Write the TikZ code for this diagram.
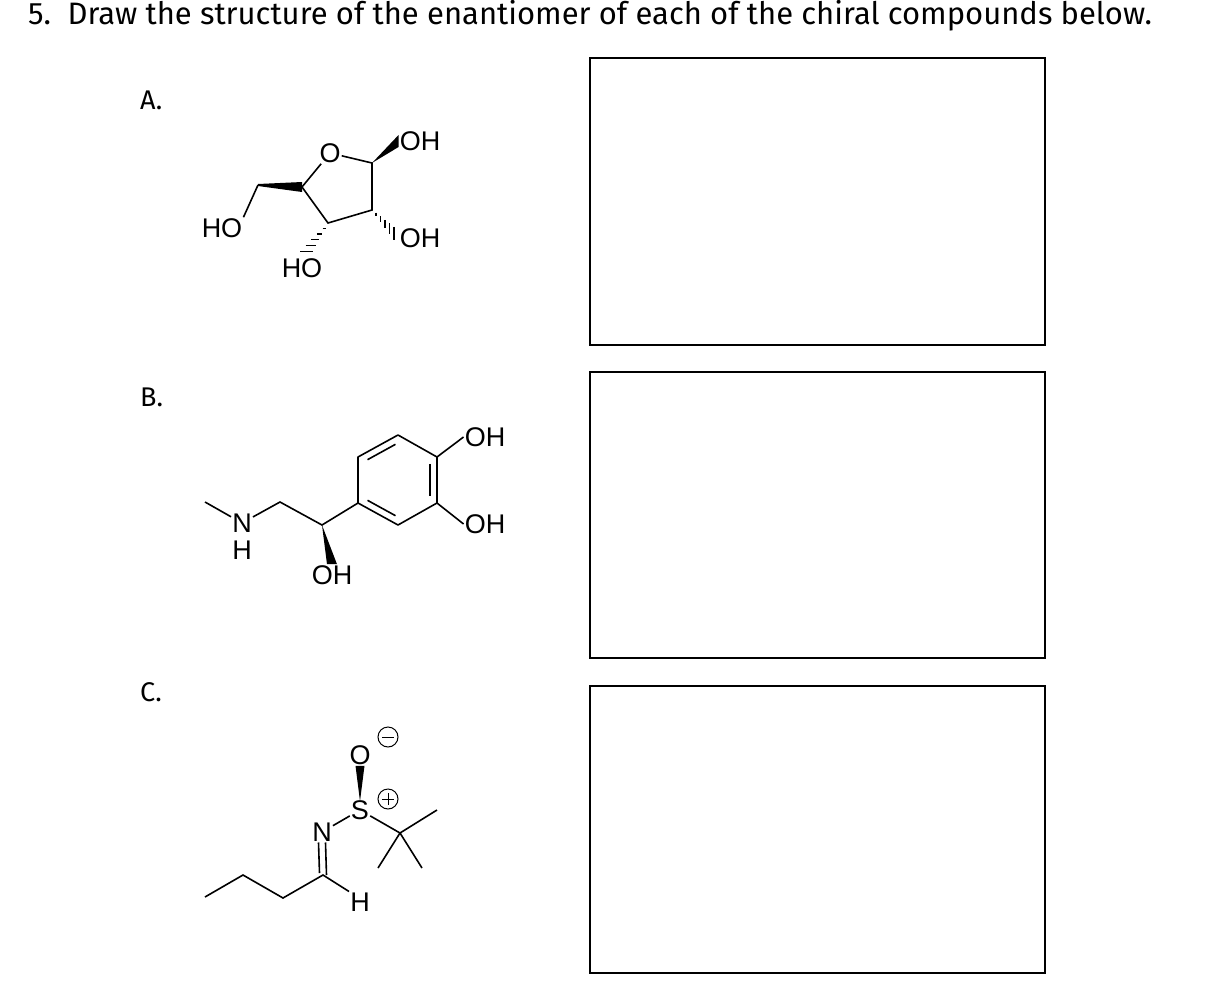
\documentclass[tikz,border=0pt]{standalone}
\usetikzlibrary{calc}
\usepackage{fontspec}
\setmainfont{Fira Sans}
\newfontfamily\atomfont{Liberation Sans}
\begin{document}
\begin{tikzpicture}[x=1pt,y=-1pt,
  bond/.style={line width=1.6pt},
  atom/.style={inner sep=1pt,font=\atomfont\fontsize{27}{27}\selectfont},
  lbl/.style={inner sep=0pt,anchor=west,font=\fontsize{27}{30}\selectfont},
  box/.style={draw,line width=1.2pt},
  chg/.style={draw,circle,line width=1pt,minimum size=20pt,inner sep=0pt}]
\useasboundingbox (0,0) rectangle (1227,999);
\node[lbl,font=\fontsize{31}{34}\selectfont] (title) at (28,16) {5.\ \ Draw the structure of the enantiomer of each of the chiral compounds below.};
\node[lbl] (la) at (140,100) {A.};
\node[lbl] (lb) at (140,397) {B.};
\node[lbl] (lc) at (140,692) {C.};
\draw[box] (590,58) rectangle (1045,345);
\draw[box] (590,372) rectangle (1045,658);
\draw[box] (590,686) rectangle (1045,973);
% A
\node[atom] (aO) at (330,153) {O};
\coordinate (a1) at (372,163);
\coordinate (a2) at (372,210);
\coordinate (a3) at (328,223);
\coordinate (a4) at (302,187);
\coordinate (a5) at (258,185);
\node[atom] (aOH1) at (420,141) {OH};
\node[atom] (aOH2) at (420,238) {OH};
\node[atom] (aOH3) at (302,268) {HO};
\node[atom] (aOH4) at (222,228) {HO};
\draw[bond] (aO) -- (a1) -- (a2) -- (a3) -- (a4) -- (aO);
\draw[bond] (a5) -- (aOH4.north east);
\fill (a1) -- ($(aOH1.west)+(0,-6)$) -- ($(aOH1.west)+(0,6)$) -- cycle;
\fill ($(a4)+(0,-5)$) -- ($(a4)+(0,5)$) -- ($(a5)+(0,1)$) -- ($(a5)+(0,-1)$) -- cycle;
\foreach \t/\w in {0.15/1.5,0.32/2.7,0.49/3.9,0.66/5.1,0.83/6.3}{
  \draw[line width=1.2pt] ($(a2)!\t!(aOH2.west)+(0,-\w)$) -- ($(a2)!\t!(aOH2.west)+(0,\w)$);
  \draw[line width=1.2pt] ($(a3)!\t!(aOH3.north)+(-\w,0)$) -- ($(a3)!\t!(aOH3.north)+(\w,0)$);}
% B
\coordinate (bm) at (205,502);
\node[atom] (bN) at (242,523) {N};
\node[atom] (bH) at (242,550) {H};
\coordinate (bc1) at (280,502);
\coordinate (bc2) at (322,525);
\node[atom] (bOH) at (332,575) {OH};
\coordinate (r1) at (358,503);
\coordinate (r2) at (358,457);
\coordinate (r3) at (398,435);
\coordinate (r4) at (437,457);
\coordinate (r5) at (437,503);
\coordinate (r6) at (398,525);
\node[atom] (bOHa) at (485,437) {OH};
\node[atom] (bOHb) at (485,524) {OH};
\draw[bond] (bm) -- (bN) -- (bc1) -- (bc2) -- (r1);
\draw[bond,line join=round] (r1) -- (r2) -- (r3) -- (r4) -- (r5) -- (r6) -- cycle;
\draw[bond] (r4) -- (bOHa.west);
\draw[bond] (r5) -- (bOHb.west);
\draw[bond] ($(r2)!0.15!(r3)+(3.5,6)$) -- ($(r2)!0.85!(r3)+(3.5,6)$);
\draw[bond] ($(r4)!0.15!(r5)+(-7,0)$) -- ($(r4)!0.85!(r5)+(-7,0)$);
\draw[bond] ($(r6)!0.15!(r1)+(3.5,-6)$) -- ($(r6)!0.85!(r1)+(3.5,-6)$);
\fill (bc2) -- ($(bOH.north)+(-5,0)$) -- ($(bOH.north)+(5,0)$) -- cycle;
% C
\coordinate (c1) at (205,897);
\coordinate (c2) at (243,875);
\coordinate (c3) at (283,898);
\coordinate (c4) at (323,875);
\node[atom] (cH) at (360,902) {H};
\node[atom] (cN) at (322,832) {N};
\node[atom] (cS) at (360,810) {S};
\node[atom] (cO) at (360,755) {O};
\node[chg] (cm) at (388,737) {};
\draw[line width=1pt] ($(cm)+(-6,0)$) -- ($(cm)+(6,0)$);
\node[chg] (cp) at (388,799) {};
\draw[line width=1pt] ($(cp)+(-6,0)$) -- ($(cp)+(6,0)$) ($(cp)+(0,-6)$) -- ($(cp)+(0,6)$);
\coordinate (cq) at (400,833);
\coordinate (m1) at (437,810);
\coordinate (m2) at (378,868);
\coordinate (m3) at (422,868);
\draw[bond] (c1) -- (c2) -- (c3) -- (c4) -- (cH.north west);
\draw[bond] ($(c4)+(-3.5,-2)$) -- ($(cN.south)+(-3.5,0)$);
\draw[bond] ($(c4)+(3.5,0)$) -- ($(cN.south)+(3.5,0)$);
\draw[bond] (cN) -- (cS);
\draw[bond] (cS) -- (cq) -- (m1) (cq) -- (m2) (cq) -- (m3);
\fill ($(cS.north)+(0,2)$) -- ($(cO.south)+(-4.5,0)$) -- ($(cO.south)+(4.5,0)$) -- cycle;
\end{tikzpicture}
\end{document}
